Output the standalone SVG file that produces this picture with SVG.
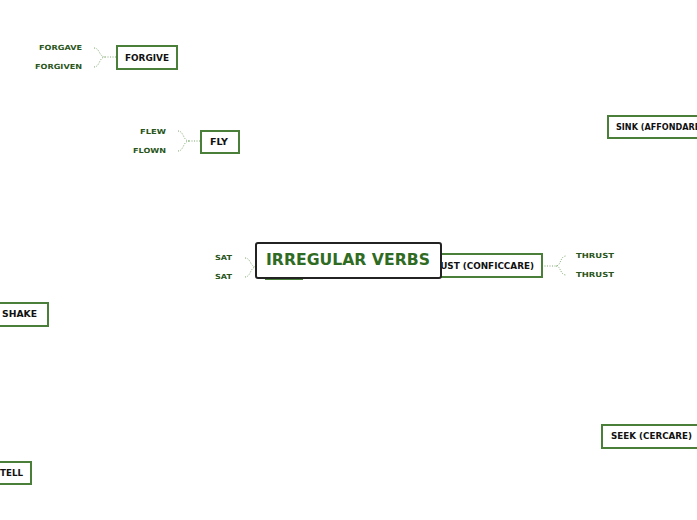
<svg xmlns="http://www.w3.org/2000/svg" width="697" height="520" viewBox="0 0 697 520">
<style>
.box{fill:#fff;stroke:#4a7f3a;stroke-width:2}
.main{fill:#fff;stroke:#222;stroke-width:2}
.nt{font-family:"DejaVu Sans",sans-serif;font-weight:bold;font-size:8px;fill:#111}
.ct{font-family:"DejaVu Sans",sans-serif;font-weight:bold;font-size:7px;fill:#2a561c}
.mt{font-family:"DejaVu Sans",sans-serif;font-weight:bold;font-size:15px;fill:#2f6b22}
.cn{fill:none;stroke:#7fa96f;stroke-width:1;stroke-dasharray:1 1.5}
</style>
<rect width="697" height="520" fill="#fff"/>
<g id="connectors">
<path class="cn" d="M94,48 C100,48 99,57 105,57 M94,67 C100,67 99,57 105,57 M105,57 L117,57"/>
<path class="cn" d="M178,131 C184,131 183,141 189,141 M178,151 C184,151 183,141 189,141 M189,141 L201,141"/>
<path class="cn" d="M245,258 C251,258 250,267 256,267 M245,277 C251,277 250,267 256,267"/>
<path class="cn" d="M542,266 L556,266 C561,266 560,256 566,256 M556,266 C561,266 560,275 566,275"/>
</g>
<g id="forgive">
<rect class="box" x="117" y="46" width="60" height="23"/>
<text class="nt" x="147" y="61" text-anchor="middle" textLength="44" lengthAdjust="spacingAndGlyphs">FORGIVE</text>
</g>
<g id="forgave"><text class="ct" x="82" y="50" text-anchor="end" textLength="43" lengthAdjust="spacingAndGlyphs">FORGAVE</text></g>
<g id="forgiven"><text class="ct" x="82" y="69" text-anchor="end" textLength="47" lengthAdjust="spacingAndGlyphs">FORGIVEN</text></g>
<g id="fly">
<rect class="box" x="201" y="131" width="38" height="22"/>
<text class="nt" x="219" y="145" text-anchor="middle" textLength="18" lengthAdjust="spacingAndGlyphs">FLY</text>
</g>
<g id="flew"><text class="ct" x="166" y="134" text-anchor="end" textLength="26" lengthAdjust="spacingAndGlyphs">FLEW</text></g>
<g id="flown"><text class="ct" x="166" y="153" text-anchor="end" textLength="33" lengthAdjust="spacingAndGlyphs">FLOWN</text></g>
<g id="sink">
<rect class="box" x="608" y="116" width="100" height="22"/>
<text class="nt" x="616" y="130" textLength="88" lengthAdjust="spacingAndGlyphs">SINK (AFFONDARE)</text>
</g>
<g id="seek">
<rect class="box" x="602" y="425" width="100" height="23"/>
<text class="nt" x="611" y="439" textLength="81" lengthAdjust="spacingAndGlyphs">SEEK (CERCARE)</text>
</g>
<g id="shake">
<rect class="box" x="-12" y="303" width="60" height="23"/>
<text class="nt" x="2" y="317" textLength="35" lengthAdjust="spacingAndGlyphs">SHAKE</text>
</g>
<g id="tell">
<rect class="box" x="-20" y="462" width="51" height="22"/>
<text class="nt" x="0" y="476" textLength="23" lengthAdjust="spacingAndGlyphs">TELL</text>
</g>
<g id="sit">
<rect class="box" x="266" y="258" width="36" height="21"/>
</g>
<g id="sat1"><text class="ct" x="232" y="260" text-anchor="end" textLength="17" lengthAdjust="spacingAndGlyphs">SAT</text></g>
<g id="sat2"><text class="ct" x="232" y="279" text-anchor="end" textLength="17" lengthAdjust="spacingAndGlyphs">SAT</text></g>
<g id="thrust">
<rect class="box" x="412" y="254" width="130" height="23"/>
<text class="nt" x="420" y="269" textLength="114" lengthAdjust="spacingAndGlyphs">THRUST (CONFICCARE)</text>
</g>
<g id="thrust1"><text class="ct" x="576" y="258" textLength="38" lengthAdjust="spacingAndGlyphs">THRUST</text></g>
<g id="thrust2"><text class="ct" x="576" y="277" textLength="38" lengthAdjust="spacingAndGlyphs">THRUST</text></g>
<g id="main">
<rect class="main" x="256" y="243" width="185" height="35" rx="2"/>
<text class="mt" x="348" y="265" text-anchor="middle" textLength="164" lengthAdjust="spacingAndGlyphs">IRREGULAR VERBS</text>
</g>
</svg>
